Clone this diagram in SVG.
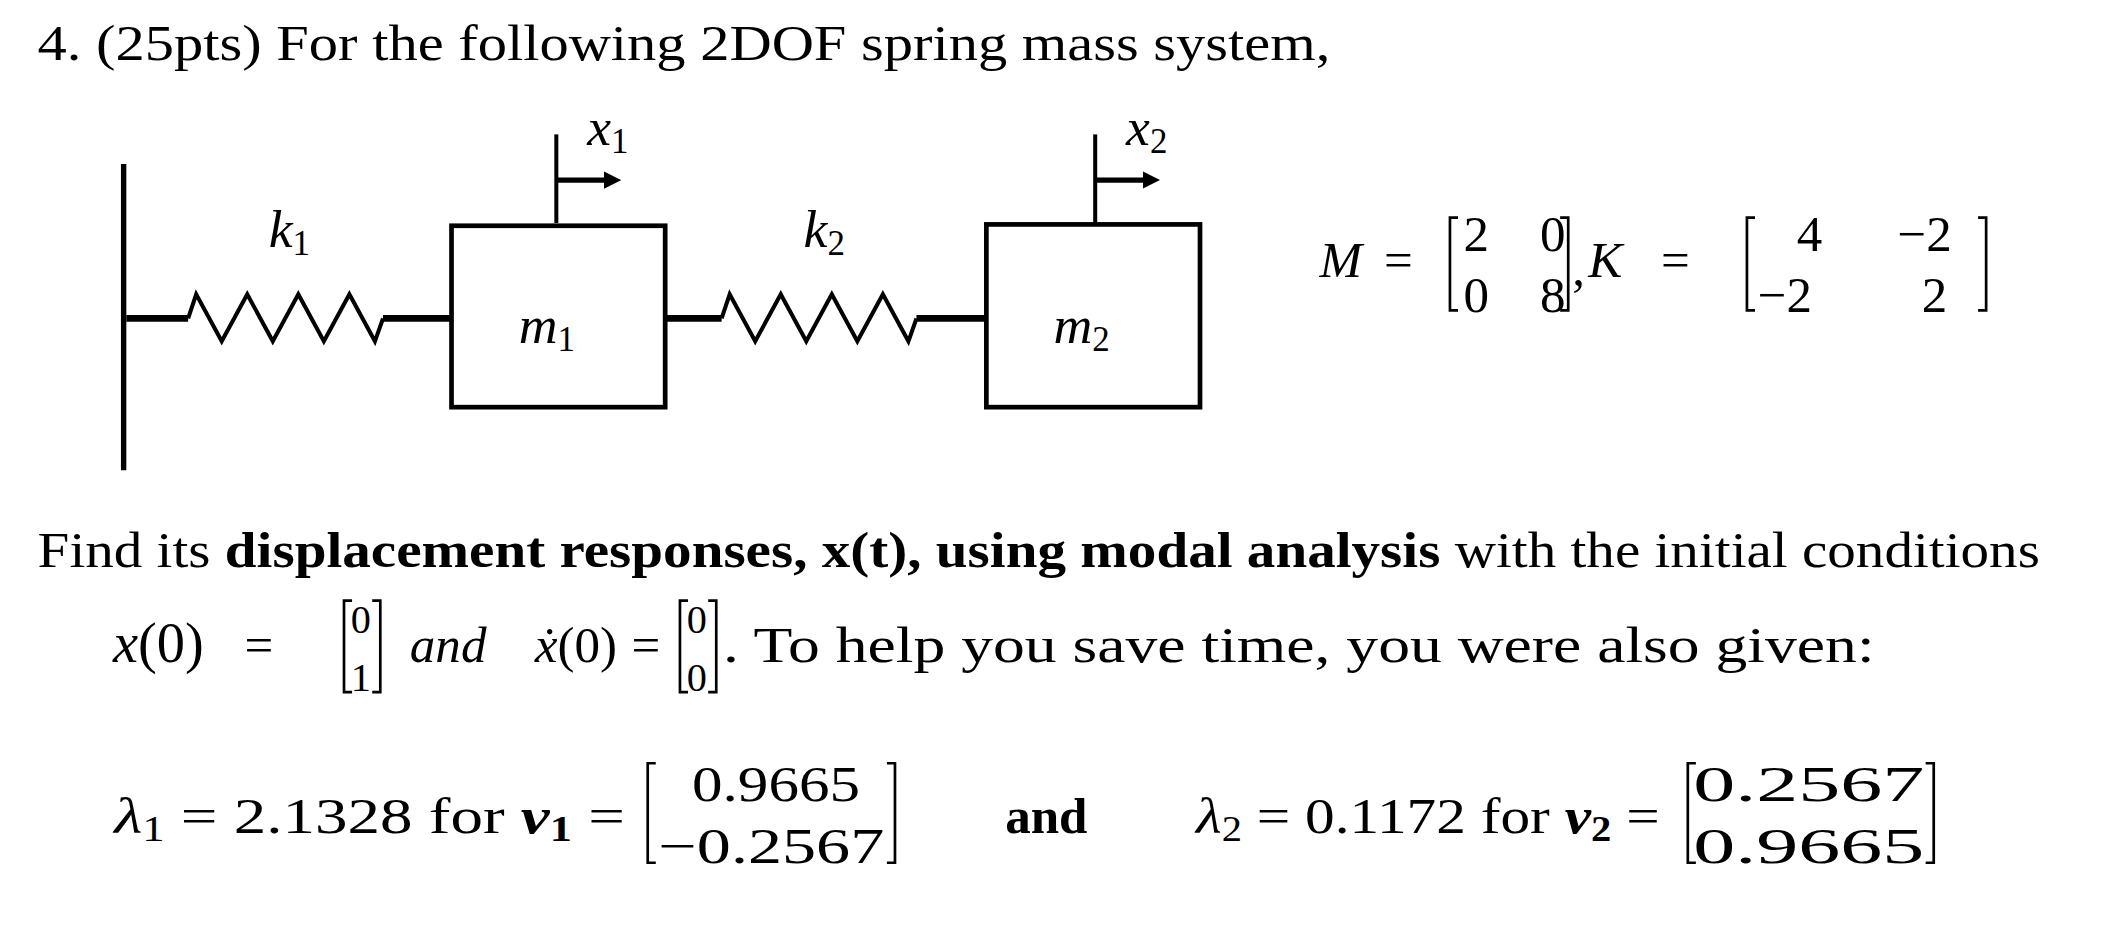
<svg xmlns="http://www.w3.org/2000/svg" width="2107" height="927" viewBox="0 0 2107 927">
<defs>
<marker id="ah" viewBox="0 0 10 10" refX="2" refY="5" markerWidth="3.2" markerHeight="3.2" orient="auto"><path d="M0,0 L10,5 L0,10 Z" fill="#000"/></marker>
<style>
text{font-family:"Liberation Serif","Times New Roman",serif;fill:#000;font-size:38px}
.m{font-style:italic;font-size:40px}
.b{font-weight:bold}
.i{font-style:italic}
.s{font-size:26px;font-style:normal}
.ln{stroke:#000;fill:none}
.br{stroke:#000;fill:none;stroke-width:2}
</style>
</defs>
<rect width="2107" height="927" fill="#fff"/>
<g transform="scale(1.3438)">
<text x="28" y="45" textLength="962" lengthAdjust="spacingAndGlyphs">4.  (25pts) For the following 2DOF spring mass system,</text>
<g id="wall"><line class="ln" x1="92" y1="122" x2="92" y2="350" stroke-width="4"/></g>
<g id="m1"><rect x="336" y="168" width="159" height="135" fill="none" stroke="#000" stroke-width="3.5"/><text class="m" x="386" y="255">m<tspan class="s" dy="6">1</tspan></text></g>
<g id="m2"><rect x="734" y="167" width="159" height="136" fill="none" stroke="#000" stroke-width="3.5"/><text class="m" x="784" y="255">m<tspan class="s" dy="6">2</tspan></text></g>
<g id="connectors">
<path class="ln" stroke-width="5" d="M94,237 H140"/>
<path class="ln" stroke-width="3" d="M140,237 L146,219 L165,254 L184,219 L203,254 L222,219 L241,254 L260,219 L279,254 L285,237"/>
<path class="ln" stroke-width="5" d="M285,237 H336"/>
<path class="ln" stroke-width="5" d="M495,237 H537"/>
<path class="ln" stroke-width="3" d="M537,237 L543,219 L562,254 L581,219 L600,254 L619,219 L638,254 L657,219 L676,254 L682,237"/>
<path class="ln" stroke-width="5" d="M682,237 H734"/>
<path class="ln" stroke-width="3" d="M414,166 V100"/>
<path class="ln" stroke-width="4" d="M414,134 H452" marker-end="url(#ah)"/>
<path class="ln" stroke-width="3" d="M815,166 V100"/>
<path class="ln" stroke-width="4" d="M815,134 H853" marker-end="url(#ah)"/>
</g>
<g id="labels">
<text class="m" x="200" y="184">k<tspan class="s" dy="6">1</tspan></text>
<text class="m" x="598" y="184">k<tspan class="s" dy="6">2</tspan></text>
<text class="m" x="437" y="108">x<tspan class="s" dy="6">1</tspan></text>
<text class="m" x="838" y="108">x<tspan class="s" dy="6">2</tspan></text>
</g>
<g id="matrices">
<text class="i" x="982" y="206">M</text><text x="1030" y="206">=</text>
<path class="br" d="M1085,162 H1079 V231 H1085"/>
<text x="1089" y="187">2</text><text x="1146" y="187">0</text>
<text x="1089" y="232">0</text><text x="1146" y="232">8</text>
<path class="br" d="M1161,162 H1167 V231 H1161"/>
<text x="1170" y="212">,</text>
<text class="i" x="1182" y="206">K</text><text x="1236" y="206">=</text>
<path class="br" d="M1306,162 H1300 V231 H1306"/>
<text x="1337" y="187">4</text><text x="1412" y="187">−2</text>
<text x="1308" y="232">−2</text><text x="1430" y="232">2</text>
<path class="br" d="M1472,162 H1478 V231 H1472"/>
</g>
<text x="28" y="422" textLength="1490" lengthAdjust="spacingAndGlyphs">Find its <tspan class="b">displacement responses, x(t), using modal analysis</tspan> with the initial conditions</text>
<text x="84" y="493" style="font-size:42px"><tspan class="i">x</tspan>(0)</text><text x="182" y="493">=</text>
<path class="br" d="M262,447 H256 V515 H262"/>
<text x="261" y="471" style="font-size:30px">0</text><text x="261" y="514" style="font-size:30px">1</text>
<path class="br" d="M277,447 H283 V515 H277"/>
<text class="i" x="305" y="493">and</text>
<text x="398" y="493"><tspan class="i">ẋ</tspan>(0)</text><text x="470" y="493">=</text>
<path class="br" d="M512,447 H506 V515 H512"/>
<text x="511" y="471" style="font-size:30px">0</text><text x="511" y="514" style="font-size:30px">0</text>
<path class="br" d="M527,447 H533 V515 H527"/>
<text x="538" y="493" textLength="857" lengthAdjust="spacingAndGlyphs">.  To help you save time, you were also given:</text>
<text x="85" y="620" textLength="380" lengthAdjust="spacingAndGlyphs"><tspan class="i">λ</tspan><tspan class="s" dy="6">1</tspan><tspan dy="-6"> = 2.1328 for </tspan><tspan class="i b">v</tspan><tspan class="s b" dy="6">1</tspan><tspan dy="-6"> =</tspan></text>
<path class="br" d="M488,568 H482 V642 H488"/>
<text x="515" y="596" textLength="125" lengthAdjust="spacingAndGlyphs">0.9665</text><text x="490" y="642" textLength="168" lengthAdjust="spacingAndGlyphs">−0.2567</text>
<path class="br" d="M660,568 H666 V642 H660"/>
<text class="b" x="748" y="620">and</text>
<text x="890" y="620" textLength="345" lengthAdjust="spacingAndGlyphs"><tspan class="i">λ</tspan><tspan class="s" dy="6">2</tspan><tspan dy="-6"> = 0.1172 for </tspan><tspan class="i b">v</tspan><tspan class="s b" dy="6">2</tspan><tspan dy="-6"> =</tspan></text>
<path class="br" d="M1262,568 H1256 V642 H1262"/>
<text x="1260" y="596" textLength="172" lengthAdjust="spacingAndGlyphs">0.2567</text><text x="1260" y="642" textLength="172" lengthAdjust="spacingAndGlyphs">0.9665</text>
<path class="br" d="M1433,568 H1439 V642 H1433"/>
</g>
</svg>
